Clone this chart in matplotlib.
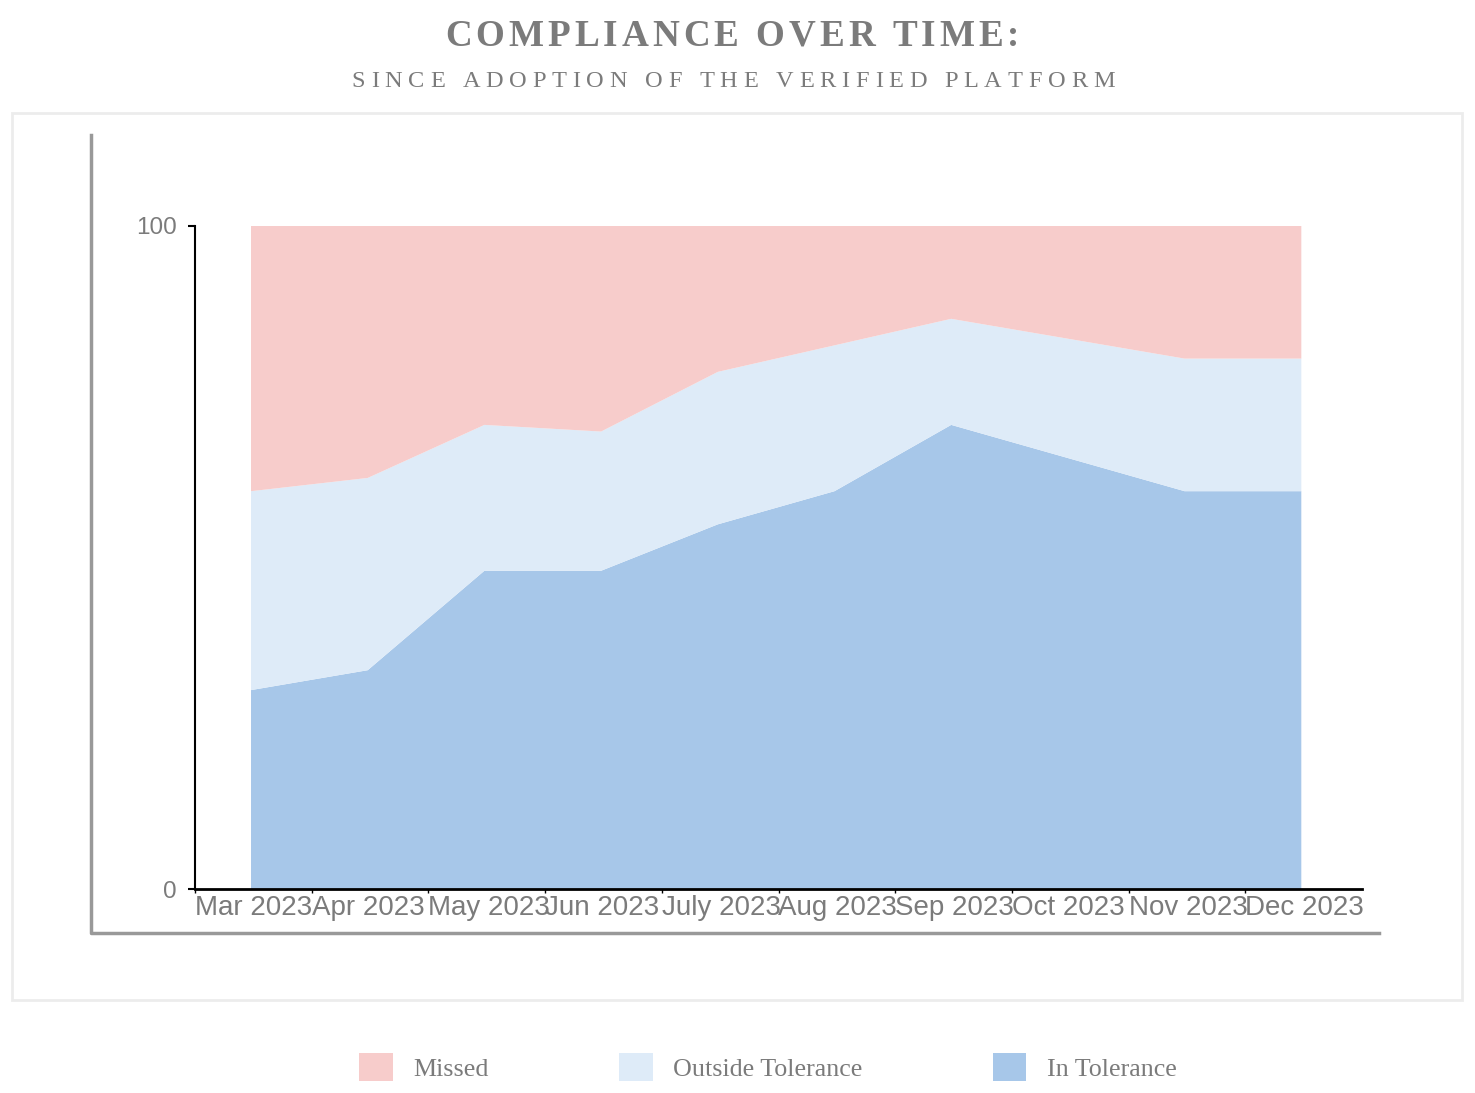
import matplotlib
matplotlib.use("Agg")
import matplotlib.pyplot as plt
from matplotlib.patches import Rectangle, Patch
from matplotlib.lines import Line2D
from matplotlib.font_manager import FontProperties
from matplotlib.textpath import text_to_path
import numpy as np

W, H = 1475, 1093

months = ["Mar 2023", "Apr 2023", "May 2023", "Jun 2023", "July 2023",
          "Aug 2023", "Sep 2023", "Oct 2023", "Nov 2023", "Dec 2023"]
in_tolerance = [30, 33, 48, 48, 55, 60, 70, 65, 60, 60]
outside_tolerance = [30, 29, 22, 21, 23, 22, 16, 18, 20, 20]
missed = [40, 38, 30, 31, 22, 18, 14, 17, 20, 20]
series_names = ["In Tolerance", "Outside Tolerance", "Missed"]
series_colors = ["#a7c7e9", "#deebf8", "#f7cccb"]

GREY = "#7b7b7b"


def fx(px):
    return px / W


def fy(py):
    return 1 - py / H


def spaced_text(fig, s, cx, baseline, size, weight, tracking):
    # matplotlib has no letter-spacing, so place letters one by one
    fp = FontProperties(family="Liberation Serif", size=size, weight=weight)
    widths = [text_to_path.get_text_width_height_descent(c, fp, ismath=False)[0] * 100 / 72
              for c in s]
    total = sum(widths) + tracking * (len(s) - 1)
    x = cx - total / 2
    for c, w in zip(s, widths):
        fig.text(fx(x), fy(baseline), c, fontproperties=fp, color=GREY,
                 ha="left", va="baseline")
        x += w + tracking


fig = plt.figure(figsize=(W / 100, H / 100), dpi=100)

spaced_text(fig, "COMPLIANCE OVER TIME:", 732, 46, 26.7, "bold", 4.0)
spaced_text(fig, "SINCE ADOPTION OF THE VERIFIED PLATFORM", 733, 87, 17.6, "normal", 5.7)

# outer light frame and grey L-shaped axis lines
fig.add_artist(Rectangle((fx(12), fy(1000)), fx(1450), 887 / H, fill=False,
                         edgecolor="#ececec", linewidth=2))
fig.add_artist(Line2D([fx(91), fx(91), fx(1379)], [fy(135), fy(933), fy(933)],
                      color="#999999", linewidth=2.5))

ax = fig.add_axes([fx(195), fy(889), 1167 / W, 663 / H])
x = np.arange(len(months)) + 0.48
ax.stackplot(x, in_tolerance, outside_tolerance, missed,
             colors=series_colors, labels=series_names, linewidth=0)
ax.set_xlim(0, len(months))
ax.set_ylim(0, 100)

ax.spines["top"].set_visible(False)
ax.spines["right"].set_visible(False)
ax.spines["left"].set_linewidth(1.5)
ax.spines["bottom"].set_linewidth(2)

ax.set_xticks(np.arange(len(months)))
ax.set_xticklabels(months, ha="left", family="Liberation Sans", fontsize=20, color=GREY)
ax.set_yticks([0, 100])
ax.set_yticklabels(["0", "100"], family="Liberation Sans", fontsize=17.5, color=GREY)
ax.tick_params(axis="x", length=3, width=1, pad=1)
ax.tick_params(axis="y", length=5, width=1.5, pad=8)

handles = [Patch(facecolor=c, edgecolor="none") for c in series_colors]
order = [2, 1, 0]
fig.legend([handles[i] for i in order], [series_names[i] for i in order],
           loc="center", bbox_to_anchor=(fx(768), fy(1067)), ncol=3, frameon=False,
           prop=FontProperties(family="Liberation Serif", size=18.7),
           labelcolor=GREY, handlelength=1.3, handleheight=1.3,
           handletextpad=0.8, columnspacing=5.0)

fig.savefig("out.png", dpi=100)
